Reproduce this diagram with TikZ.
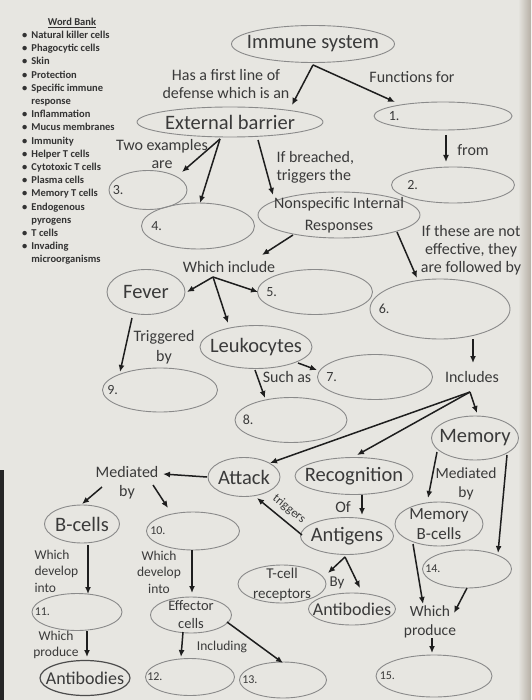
\documentclass[tikz,border=0pt]{standalone}
\usepackage{fontspec}
\setmainfont{Carlito}
\usepackage{tikz}
\usetikzlibrary{shapes.geometric,arrows.meta,positioning,calc}
\definecolor{bgc}{HTML}{E7E6E1}
\definecolor{txc}{HTML}{3A3A3A}
\definecolor{ovc}{HTML}{8A8A8A}
\definecolor{lnc}{HTML}{1E1E1E}
\tikzset{
	oval/.style 2 args={draw=ovc, line width=0.9pt, ellipse, inner sep=0pt, minimum width=#1, minimum height=#2},
	bigtxt/.style={font=\fontsize{20.5}{24}\selectfont, text=txc},
	midtxt/.style={font=\fontsize{16}{18}\selectfont, text=txc},
	smltxt/.style={font=\fontsize{13.5}{16.5}\selectfont, text=txc},
	numtxt/.style={font=\fontsize{14}{16}\selectfont, text=txc, inner sep=0pt},
	numsml/.style={font=\fontsize{12}{14}\selectfont, text=txc, inner sep=0pt},
	arr/.style={draw=lnc, line width=1.5pt, -{Latex[length=7pt,width=6pt]}},
}

\begin{document}
\begin{tikzpicture}[x=1pt,y=-1pt]
			\fill[bgc] (0,0) rectangle (531,700);
			\shade[left color=bgc, right color=black!22!bgc!90!brown] (518,0) rectangle (531,700);
			\fill[black!85] (0,470) rectangle (4,700);
			\useasboundingbox (0,0) rectangle (531,700);
			% word bank
			\node[font=\fontsize{10.5}{13.2}\selectfont\bfseries, text=black!80] (wbt) at (72,23) {\underline{Word Bank}};
			\node[font=\fontsize{10.5}{13.2}\selectfont\bfseries, text=black!80, anchor=north west, inner sep=0pt] (wb) at (22,29) {%
				\begin{tabular}{@{}l@{\hspace{4pt}}l@{}}
				• & Natural killer cells\\
				• & Phagocytic cells\\
				• & Skin\\
				• & Protection\\
				• & Specific immune\\
				  & response\\
				• & Inflammation\\
				• & Mucus membranes\\
				• & Immunity\\
				• & Helper T cells\\
				• & Cytotoxic T cells\\
				• & Plasma cells\\
				• & Memory T cells\\
				• & Endogenous\\
				  & pyrogens\\
				• & T cells\\
				• & Invading\\
				  & microorganisms
				\end{tabular}};
			% 
			\node[oval={163pt}{37pt}, label={[bigtxt]center:Immune system}] (imm) at (313,44) {};
			\node[oval={186pt}{30pt}, label={[bigtxt]center:External barrier}] (ext) at (230,122) {};
			\node[oval={138pt}{28pt}] (one) at (443,116) {};
			\node[numtxt, right=15pt of one.west] (n1) {1.};
			\node[oval={123pt}{36pt}] (two) at (453,185) {};
			\node[numtxt, right=16pt of two.west] (n2) {2.};
			\node[oval={78pt}{39pt}] (three) at (148,190) {};
			\node[numtxt, right=4pt of three.west] (n3) {3.};
			\node[oval={113pt}{46pt}] (four) at (198,226) {};
			\node[numtxt, right=10pt of four.west] (n4) {4.};
			\node[oval={162pt}{46pt}, label={[midtxt,font=\fontsize{16}{22}\selectfont,align=center]center:Nonspecific Internal\\Responses}] (nsi) at (339,215) {};
			% 
			\node[oval={78pt}{45pt}, label={[bigtxt]center:Fever}] (fev) at (146,292) {};
			\node[oval={115pt}{45pt}] (five) at (315,292) {};
			\node[numtxt, right=9pt of five.west] (n5) {5.};
			\node[oval={140pt}{60pt}] (six) at (440,309) {};
			\node[numtxt, right=9pt of six.west] (n6) {6.};
			\node[oval={112pt}{43pt}, label={[bigtxt]center:Leukocytes}] (leu) at (256,347) {};
			\node[oval={115pt}{45pt}] (seven) at (375,377) {};
			\node[numtxt, right=9pt of seven.west] (n7) {7.};
			\node[oval={112pt}{45pt}] (eight) at (291,420) {};
			\node[numtxt, right=8pt of eight.west] (n8) {8.};
			\node[oval={115pt}{44pt}] (nine) at (160,390) {};
			\node[numtxt, right=5pt of nine.west] (n9) {9.};
			% 
			\node[oval={87pt}{44pt}, label={[bigtxt]center:Memory}] (mem) at (475,438) {};
			\node[oval={72pt}{39pt}, label={[bigtxt]center:Attack}] (att) at (244,477) {};
			\node[oval={118pt}{37pt}, label={[bigtxt]center:Recognition}] (rec) at (354,476) {};
			\node[oval={93pt}{37pt}, label={[bigtxt]center:Antigens}] (ant) at (347,536) {};
			\node[oval={88pt}{44pt}, label={[midtxt,font=\fontsize{17}{20}\selectfont,align=center]center:Memory\\B-cells}] (mbc) at (439,524) {};
			\node[oval={89pt}{38pt}] (ftn) at (467,569) {};
			\node[numsml, right=3pt of ftn.west] (n14) {14.};
			\node[oval={88pt}{38pt}, label={[midtxt,font=\fontsize{15}{20}\selectfont,align=center]center:T-cell\\receptors}] (tcr) at (282,584) {};
			\node[oval={87pt}{32pt}, label={[bigtxt,font=\fontsize{18}{20}\selectfont]center:Antibodies}] (abm) at (352,609) {};
			% 
			\node[oval={75pt}{38pt}, label={[bigtxt]center:B-cells}] (bc) at (82,524) {};
			\node[oval={93pt}{38pt}] (ten) at (193,531) {};
			\node[numsml, right=4pt of ten.west] (n10) {10.};
			\node[oval={90pt}{37pt}] (elv) at (77,612) {};
			\node[numsml, right=3pt of elv.west] (n11) {11.};
			\node[oval={90pt}{35pt}, draw=black!70, line width=1.2pt, label={[bigtxt,font=\fontsize{18}{20}\selectfont]center:Antibodies}] (abl) at (85,678) {};
			\node[oval={81pt}{36pt}, label={[midtxt,font=\fontsize{14.5}{18}\selectfont,align=center]center:Effector\\cells}] (eff) at (191,615) {};
			\node[oval={89pt}{37pt}] (twl) at (190,677) {};
			\node[numsml, right=2pt of twl.west] (n12) {12.};
			\node[oval={87pt}{36pt}] (thr) at (283,680) {};
			\node[numsml, right=3pt of thr.west] (n13) {13.};
			\node[oval={116pt}{42pt}] (fif) at (434,676) {};
			\node[numsml, right=4pt of fif.west] (n15) {15.};
			% texts on the links
			\node[midtxt, align=center] (hfl) at (226,84) {Has a first line of\\defense which is an};
			\node[midtxt] (ffor) at (412,77) {Functions for};
			\node[midtxt] (frm) at (473,150) {from};
			\node[midtxt, align=center] (twx) at (162,154) {Two examples\\are};
			\node[midtxt, align=left, anchor=west] (ifb) at (273,167) {If breached,\\triggers the};
			\node[midtxt, align=center] (ifn) at (471,250) {If these are not\\effective, they\\are followed by};
			\node[midtxt] (wi) at (229,267) {Which include};
			\node[midtxt, font=\fontsize{16}{20}\selectfont, align=center] (trg) at (164,347) {Triggered\\by};
			\node[midtxt] (such) at (287,377) {Such as};
			\node[midtxt] (inc) at (472,377) {Includes};
			\node[midtxt, font=\fontsize{16}{19}\selectfont, align=center] (medl) at (127,483) {Mediated\\by};
			\node[smltxt, font=\fontsize{12.5}{15}\selectfont, rotate=-39, inner sep=1pt] (trgs) at (289,509) {triggers};
			\node[midtxt] (of) at (343,507) {Of};
			\node[midtxt, font=\fontsize{15.5}{19}\selectfont, align=center] (medr) at (466,484) {Mediated\\by};
			\node[smltxt, align=left, anchor=west] (wdl) at (31,571) {Which\\develop\\into};
			\node[smltxt, align=center] (wdm) at (159,572) {Which\\develop\\into};
			\node[smltxt, font=\fontsize{13.5}{16}\selectfont, align=center] (wpl) at (56,645) {Which\\produce};
			\node[midtxt, font=\fontsize{15}{18}\selectfont] (by) at (337,583) {By};
			\node[smltxt] (incl) at (222,647) {Including};
			\node[midtxt, font=\fontsize{15.5}{19}\selectfont, align=center] (wpr) at (430,622) {Which\\produce};
			% branch points
			\coordinate (imv) at ($(imm.south)+(0,2)$);
			\coordinate (exv) at ($(ext)+(-10,17)$);
			\coordinate (wiv) at ($(wi)+(-16,10)$);
			\coordinate (incv) at ($(inc)+(-2,15)$);
			\coordinate (antv) at ($(ant)+(-2,21)$);
			% arrows
			\draw[arr] (imv) -- ($(ext)+(62,-17)$);
			\draw[arr] (imv) -- ($(one)+(-48,-14)$);
			\draw[arr] ($(one)+(3,19)$) -- ($(two)+(-7,-23)$);
			\draw[arr] (exv) -- ($(three)+(34,-18)$);
			\draw[arr] (exv) -- ($(four)+(2,-23)$);
			\draw[arr] ($(ext)+(28,18)$) -- ($(nsi)+(-66,-20)$);
			\draw[arr] ($(nsi)+(-46,20)$) -- ($(wi)+(33,-12)$);
			\draw[arr] (wiv) -- ($(fev)+(41,0)$);
			\draw[arr] (wiv) -- ($(five)+(-57,0)$);
			\draw[arr] (wiv) -- ($(leu)+(-28,-24)$);
			\draw[arr] ($(nsi)+(58,17)$) -- ($(six)+(-23,-31)$);
			\draw[arr] ($(fev)+(-14,26)$) -- ($(nine)+(-40,-18)$);
			\draw[arr] ($(leu)+(42,16)$) -- ($(seven)+(-58,-7)$);
			\draw[arr] ($(leu)+(-1,23)$) -- ($(eight)+(-26,-22)$);
			\draw[arr] ($(six)+(33,30)$) -- ($(inc)+(1,-14)$);
			\draw[arr] (incv) -- ($(att)+(26,-14)$);
			\draw[arr] (incv) -- ($(rec)+(3,-21)$);
			\draw[arr] (incv) -- ($(mem)+(2,-25)$);
			\draw[arr] ($(att)+(-37,0)$) -- ($(medl)+(36,-9)$);
			\draw[arr] ($(medl)+(-25,4)$) -- ($(bc)+(0,-20)$);
			\draw[arr] ($(medl)+(26,2)$) -- ($(ten)+(-25,-23)$);
			\draw[arr] ($(rec)+(8,19)$) -- ($(ant)+(15,-21)$);
			\draw[arr] ($(ant)+(-45,-1)$) -- ($(att)+(13,21)$);
			\draw[arr] (antv) -- ($(tcr)+(46,-11)$);
			\draw[arr] (antv) -- ($(abm)+(8,-21)$);
			\draw[arr] ($(mem)+(-38,14)$) -- ($(mbc)+(-11,-26)$);
			\draw[arr] ($(mem)+(32,17)$) -- ($(ftn)+(31,-16)$);
			\draw[arr] ($(bc)+(6,21)$) -- ($(elv)+(11,-18)$);
			\draw[arr] ($(elv)+(10,19)$) -- ($(abl)+(2,-21)$);
			\draw[arr] ($(ten)+(-1,19)$) -- ($(eff)+(1,-22)$);
			\draw[arr] ($(eff)+(-8,17)$) -- ($(twl)+(-9,-20)$);
			\draw[arr] ($(eff)+(36,7)$) -- ($(thr)+(0,-17)$);
			\draw[arr] ($(mbc)+(-26,20)$) -- ($(wpr)+(-7,-18)$);
			\draw[arr] ($(ftn)+(0,19)$) -- ($(wpr)+(24,-9)$);
			\draw[arr] ($(wpr)+(2,16)$) -- ($(fif)+(-2,-23)$);
		\end{tikzpicture}
\end{document}
